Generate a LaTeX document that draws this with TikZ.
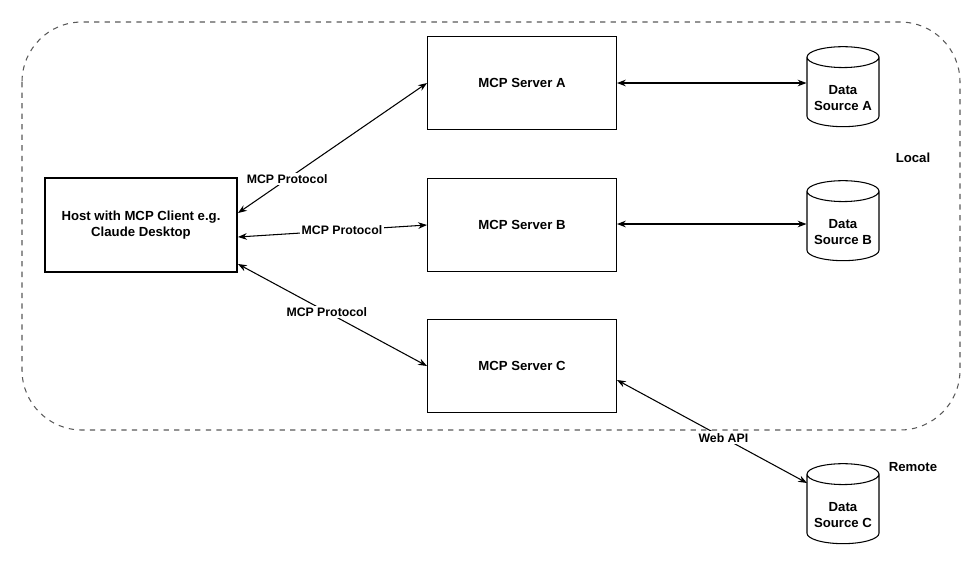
\documentclass[tikz,border=0pt]{standalone}
\usepackage{fontspec}
\setmainfont{Liberation Sans}
\usetikzlibrary{shapes.geometric,arrows.meta}
\begin{document}
\begin{tikzpicture}[x=0.02cm,y=-0.02cm,
  box/.style={draw,semithick,minimum width=3.78cm,minimum height=1.86cm,font=\bfseries\fontsize{7.5}{9}\selectfont,align=center},
  db/.style={draw,semithick,cylinder,shape border rotate=90,aspect=0.3,minimum width=1.44cm,minimum height=1.6cm,font=\bfseries\fontsize{7.5}{9}\selectfont,align=center},
  arr/.style={semithick,{Stealth[length=5pt]}-{Stealth[length=5pt]}},
  lbl/.style={fill=white,inner sep=1pt,font=\bfseries\fontsize{7}{8}\selectfont}]
\useasboundingbox (0,0) rectangle (975,583);
\draw[dashed,semithick,gray!70!black,rounded corners=1.2cm] (22,22) rectangle (960,430);
\node[box,minimum width=3.84cm,minimum height=1.88cm] (host) at (141,225) {Host with MCP Client e.g.\\Claude Desktop};
\node[box] (sa) at (522,83) {MCP Server A};
\node[box] (sb) at (522,225) {MCP Server B};
\node[box] (sc) at (522,366) {MCP Server C};
\node[db] (da) at (843,95) {\\Data\\Source A};
\node[db] (dbb) at (843,229) {\\Data\\Source B};
\node[db] (dc) at (843,512) {\\Data\\Source C};
\coordinate (h1) at (238,213);
\coordinate (h2) at (238,237);
\coordinate (h3) at (238,264);
\draw[arr] (h1) -- (sa.west) node[lbl,pos=0.26] {MCP Protocol};
\draw[arr] (h2) -- (sb.west) node[lbl,pos=0.55] {MCP Protocol};
\draw[arr] (h3) -- (sc.west) node[lbl,pos=0.47] {MCP Protocol};
\draw[arr] (sa.east |- 0,83) -- (da.west |- 0,83);
\draw[arr] (sb.east |- 0,224) -- (dbb.west |- 0,224);
\coordinate (c1) at (617,380);
\coordinate (c2) at (807,483);
\draw[arr] (c1) -- (c2) node[lbl,pos=0.56] {Web API};
\node[font=\bfseries\fontsize{7.5}{9}\selectfont] (loc) at (913,158) {Local};
\node[font=\bfseries\fontsize{7.5}{9}\selectfont] (rem) at (913,467) {Remote};
\end{tikzpicture}
\end{document}
